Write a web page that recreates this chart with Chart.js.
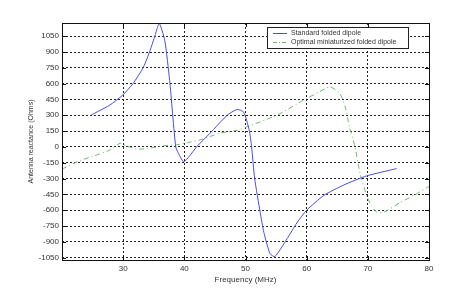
<!DOCTYPE html>
<html>
<head>
<meta charset="utf-8">
<script src="https://cdn.jsdelivr.net/npm/chart.js@4"></script>
<style>
  html, body { margin: 0; padding: 0; background: #fff; }
  #wrap { width: 474px; height: 292px; }
</style>
</head>
<body>
<div id="wrap"><canvas id="chart" width="474" height="292"></canvas></div>
<script>
'use strict';

// 리액턴스 곡선 데이터
const STD_FREQ = [24.7, 26, 27.8, 29.9, 31.6, 33.3, 34.4, 35.2, 35.9, 36.8, 37.6, 38.6, 39.2, 39.9, 40.8, 42, 44.2, 47, 48.6, 49.7, 50.6, 51, 51.5, 52.4, 53, 54, 54.8, 56.8, 58.4, 60, 62.8, 66.1, 69.8, 74.7];
const STD_X    = [300, 340, 396, 490, 600, 755, 915, 1055, 1170, 1010, 630, 0, -80, -140, -90, 0, 130, 300, 355, 330, 160, 0, -300, -620, -810, -1010, -1040, -870, -720, -600, -460, -360, -275, -205];

const OPT_FREQ = [20, 22.9, 25, 27.8, 29.5, 30.3, 32.2, 34, 36.5, 38.7, 40.5, 42.5, 45.8, 48.8, 50.2, 55.1, 60, 62, 63.8, 65.4, 66.3, 67, 67.9, 68.7, 69.8, 70.6, 71.5, 72.6, 75.2, 77.5, 80];
const OPT_X    = [-210, -130, -90, -30, 35, 15, -20, -15, 10, 20, 40, 65, 130, 160, 190, 300, 460, 520, 570, 510, 380, 190, 0, -245, -460, -560, -620, -620, -530, -460, -375];

const X_TICKS = [30, 40, 50, 60, 70, 80];
const Y_TICKS = [-1050, -900, -750, -600, -450, -300, -150, 0, 150, 300, 450, 600, 750, 900, 1050];

const SERIES_NAMES = ['Standard folded dipole', 'Optimal miniaturized folded dipole'];

const BLUE  = '#4a4ae6';
const GREEN = '#6cb86c';
const FONT  = '"Liberation Sans", Arial, sans-serif';

const toPoints = (xs, ys) => xs.map((x, i) => ({ x, y: ys[i] }));

// 플롯 테두리 + 안쪽 눈금 + 범례 박스
const _framePlugin = {
  id: 'frame',
  afterDraw(chart) {
    const { ctx, chartArea: { left, top, right, bottom } } = chart;
    const xs = chart.scales.x, ys = chart.scales.y;
    ctx.save();
    ctx.strokeStyle = '#111';
    ctx.lineWidth = 1;
    ctx.strokeRect(left + 0.5, top + 0.5, right - left, bottom - top);

    // MATLAB 스타일 안쪽 눈금
    ctx.beginPath();
    X_TICKS.forEach(v => {
      const px = Math.round(xs.getPixelForValue(v)) + 0.5;
      ctx.moveTo(px, bottom); ctx.lineTo(px, bottom - 4);
      ctx.moveTo(px, top);    ctx.lineTo(px, top + 4);
    });
    Y_TICKS.forEach(v => {
      const py = Math.round(ys.getPixelForValue(v)) + 0.5;
      ctx.moveTo(left, py);  ctx.lineTo(left + 4, py);
      ctx.moveTo(right, py); ctx.lineTo(right - 4, py);
    });
    ctx.stroke();

    // 범례
    const bx = 267, by = 27, bw = 141, bh = 21;
    ctx.fillStyle = '#fff';
    ctx.fillRect(bx, by, bw, bh);
    ctx.strokeStyle = '#222';
    ctx.strokeRect(bx + 0.5, by + 0.5, bw, bh);

    ctx.font = '7px ' + FONT;
    ctx.fillStyle = '#333';
    ctx.textBaseline = 'middle';
    const rows = [
      { y: by + 6,  color: BLUE,  dash: [] },
      { y: by + 15, color: GREEN, dash: [4, 2, 1, 2] },
    ];
    rows.forEach((r, i) => {
      ctx.beginPath();
      ctx.setLineDash(r.dash);
      ctx.strokeStyle = r.color;
      ctx.moveTo(bx + 6, r.y + 0.5);
      ctx.lineTo(bx + 20, r.y + 0.5);
      ctx.stroke();
      ctx.setLineDash([]);
      ctx.fillText(SERIES_NAMES[i], bx + 24, r.y);
    });
    ctx.restore();
  },
};

new Chart(document.getElementById('chart'), {
  type: 'line',
  plugins: [_framePlugin],
  data: {
    datasets: [
      {
        label: SERIES_NAMES[0],
        data: toPoints(STD_FREQ, STD_X),
        borderColor: BLUE,
        borderWidth: 1,
        pointRadius: 0,
        tension: 0.2,
      },
      {
        label: SERIES_NAMES[1],
        data: toPoints(OPT_FREQ, OPT_X),
        borderColor: GREEN,
        borderWidth: 1,
        borderDash: [5, 3, 1, 3],
        pointRadius: 0,
        tension: 0.2,
      },
    ],
  },
  options: {
    responsive: false,
    animation: false,
    layout: { padding: { left: 27, right: 45, top: 23, bottom: 7 } },
    plugins: {
      legend: { display: false },
      tooltip: { enabled: false },
    },
    scales: {
      x: {
        type: 'linear',
        min: 20,
        max: 80,
        afterBuildTicks(scale) { scale.ticks = X_TICKS.map(value => ({ value })); },
        afterFit(scale) { scale.height = 25; },
        grid: { color: '#222', lineWidth: 1, drawTicks: false },
        border: { display: false, dash: [2, 2] },
        ticks: { color: '#333', font: { family: FONT, size: 8 }, padding: 4, maxRotation: 0, callback: v => String(v) },
        title: { display: true, text: 'Frequency (MHz)', color: '#333', font: { family: FONT, size: 8 }, padding: 0 },
      },
      y: {
        min: -1072,
        max: 1175,
        afterBuildTicks(scale) { scale.ticks = Y_TICKS.map(value => ({ value })); },
        afterFit(scale) { scale.width = 35; },
        grid: { color: '#222', lineWidth: 1, drawTicks: false },
        border: { display: false, dash: [2, 2] },
        ticks: { color: '#333', font: { family: FONT, size: 8 }, padding: 3, callback: v => String(v) },
        title: { display: true, text: 'Antenna reactance (Ohms)', color: '#333', font: { family: FONT, size: 7 }, padding: 0 },
      },
    },
  },
});
</script>
</body>
</html>
